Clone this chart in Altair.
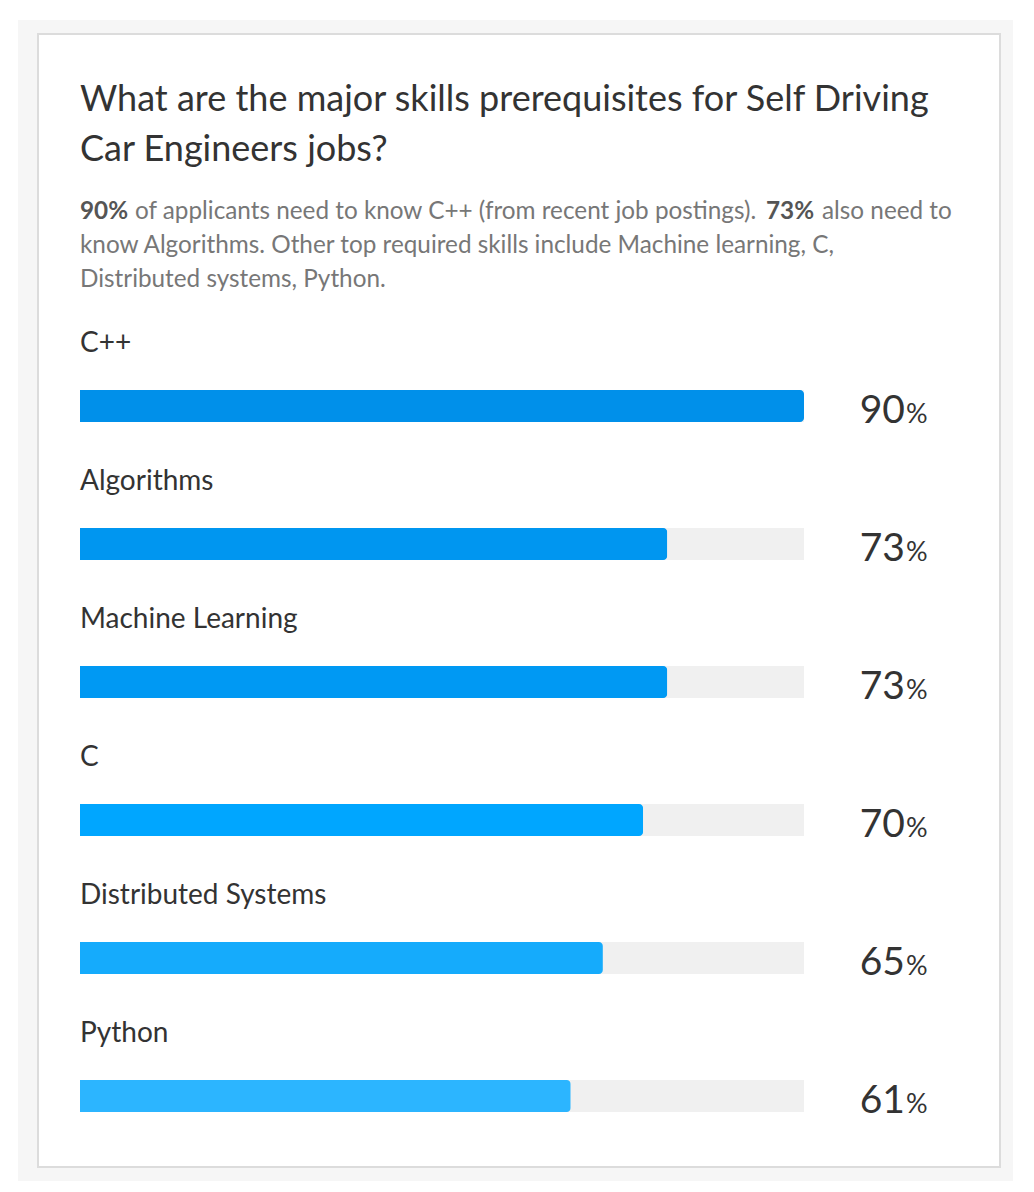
import altair as alt
import pandas as pd

skills = ["C++", "Algorithms", "Machine Learning", "C", "Distributed Systems", "Python"]
values = [90, 73, 73, 70, 65, 61]
bar_colors = ["#0090ea", "#0096f0", "#0099f3", "#00a6ff", "#15abfc", "#2cb5ff"]

title_lines = ["What are the major skills prerequisites for Self Driving", "Car Engineers jobs?"]
sub_line1 = ["90%", "of applicants need to know C++ (from recent job postings).", "73%", "also need to"]
sub_line2 = "know Algorithms. Other top required skills include Machine learning, C,"
sub_line3 = "Distributed systems, Python."

FONT = "Lato"
W, H = 962, 1133
SUB = 24.3

df = pd.DataFrame({"skill": skills, "value": values, "pct": [f"{v}" for v in values]})
df["track"] = 90

xs = alt.Scale(domain=[0, 90], range=[42, 766])
ys = alt.Scale(type="point", domain=skills, range=[372, 1062], padding=0)
one = alt.Data(values=[{"a": 1}])

outer = alt.Chart(one).mark_rect(fill="#f6f6f6").encode(
    x=alt.value(-20), x2=alt.value(W + 13), y=alt.value(-14), y2=alt.value(H + 14))
card = alt.Chart(one).mark_rect(fill="white", stroke="#dcdcdc", strokeWidth=2).encode(
    x=alt.value(0), x2=alt.value(W), y=alt.value(0), y2=alt.value(H))

def txt(s, x, y, size, color, weight="normal", align="left"):
    return alt.Chart(one).mark_text(align=align, baseline="alphabetic", font=FONT,
                                    fontSize=size, color=color, fontWeight=weight).encode(
        x=alt.value(x), y=alt.value(y), text=alt.value(s))

texts = [
    txt(title_lines[0], 42, 77, 36, "#333333"),
    txt(title_lines[1], 42, 127, 36, "#333333"),
    txt(sub_line1[0], 42, 185, SUB, "#555555", "bold"),
    txt(sub_line1[1], 97, 185, SUB, "#777777"),
    txt(sub_line1[2], 728, 185, SUB, "#555555", "bold"),
    txt(sub_line1[3], 784, 185, SUB, "#777777"),
    txt(sub_line2, 42, 219, SUB, "#777777"),
    txt(sub_line3, 42, 253, SUB, "#777777"),
]

base = alt.Chart(df)
track = base.mark_bar(size=32, color="#f0f0f0").encode(
    x=alt.X("track:Q", scale=xs, axis=None),
    y=alt.Y("skill:N", scale=ys, axis=None))
bars = base.mark_bar(size=32, cornerRadiusEnd=4).encode(
    x=alt.X("value:Q", scale=xs, axis=None),
    y=alt.Y("skill:N", scale=ys, axis=None),
    color=alt.Color("skill:N", scale=alt.Scale(domain=skills, range=bar_colors), legend=None))
labels = base.mark_text(align="left", baseline="alphabetic", dy=-54, font=FONT,
                        fontSize=28, color="#333333").encode(
    x=alt.value(42), y=alt.Y("skill:N", scale=ys, axis=None), text="skill:N")
nums = base.mark_text(align="right", baseline="alphabetic", dy=17, font=FONT,
                      fontSize=39, color="#333333").encode(
    x=alt.value(867), y=alt.Y("skill:N", scale=ys, axis=None), text="pct:N")
pcts = base.mark_text(align="left", baseline="alphabetic", dy=17, font=FONT,
                      fontSize=27, color="#333333").encode(
    x=alt.value(868), y=alt.Y("skill:N", scale=ys, axis=None), text=alt.value("%"))

chart = alt.layer(outer, card, *texts, track, bars, labels, nums, pcts).properties(
    width=W, height=H,
    autosize=alt.AutoSizeParams(type="none"),
    padding={"left": 30, "top": 26, "right": 20, "bottom": 16},
    background="white",
).configure_view(strokeWidth=0)

chart.save("out.html", embed_options={"renderer": "svg", "actions": False})
